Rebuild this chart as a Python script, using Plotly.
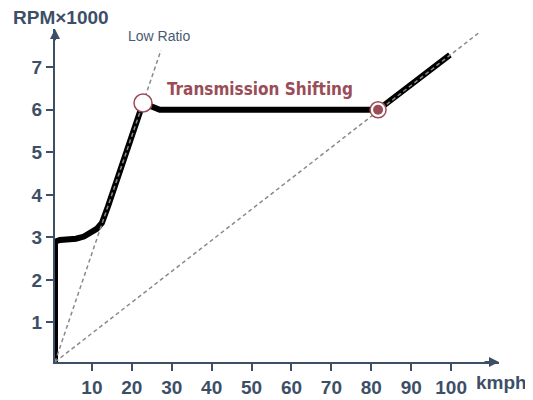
import plotly.graph_objects as go

# speed in kmph, engine speed in RPM x 1000
curve_x = [0.75, 0.75, 2.0, 4.0, 6.0, 8.0, 9.8, 11.2, 12.5, 14.0, 22.8, 27.0, 81.7, 99.7]
curve_y = [0.07, 2.90, 2.94, 2.95, 2.97, 3.02, 3.10, 3.20, 3.34, 3.72, 6.16, 6.0, 6.0, 7.29]

low_ratio_x = [0.75, 27.3]
low_ratio_y = [0.07, 7.40]
high_ratio_x = [0.75, 106.8]
high_ratio_y = [0.07, 7.80]

shift_low = (22.8, 6.16)
shift_high = (81.7, 6.0)

x_ticks = [10, 20, 30, 40, 50, 60, 70, 80, 90, 100]
y_ticks = [1, 2, 3, 4, 5, 6, 7]

axis_col = "#3d4f67"
red = "#9a4d57"
dash_col = "#8a8a8a"

fig = go.Figure()

fig.add_trace(go.Scatter(x=curve_x, y=curve_y, mode="lines",
                         line=dict(color="black", width=6), hoverinfo="skip"))
fig.add_trace(go.Scatter(x=low_ratio_x, y=low_ratio_y, mode="lines",
                         line=dict(color=dash_col, width=1.5, dash="4px,3px"), hoverinfo="skip"))
fig.add_trace(go.Scatter(x=high_ratio_x, y=high_ratio_y, mode="lines",
                         line=dict(color=dash_col, width=1.5, dash="4px,3px"), hoverinfo="skip"))

# shift points
fig.add_trace(go.Scatter(x=[shift_low[0]], y=[shift_low[1]], mode="markers",
                         marker=dict(size=18, color="white", line=dict(color=red, width=1.5))))
fig.add_trace(go.Scatter(x=[shift_high[0]], y=[shift_high[1]], mode="markers",
                         marker=dict(size=16, color="white", line=dict(color=red, width=1.5))))
fig.add_trace(go.Scatter(x=[shift_high[0]], y=[shift_high[1]], mode="markers",
                         marker=dict(size=10, color=red, line=dict(width=0))))

sans = "Liberation Sans, Arial, sans-serif"
tick_font = dict(family=sans, size=19, color=axis_col, weight="bold")

fig.update_xaxes(range=[0.75, 112], tickvals=x_ticks, showgrid=False, zeroline=False,
                 showline=True, linecolor=axis_col, linewidth=2, automargin=False,
                 ticks="outside", ticklen=7, tickwidth=2, tickcolor=axis_col,
                 tickfont=tick_font)
fig.update_yaxes(range=[0.07, 7.9], tickvals=y_ticks, showgrid=False, zeroline=False,
                 showline=True, linecolor=axis_col, linewidth=2, automargin=False,
                 ticks="outside", ticklen=7, tickwidth=2, tickcolor=axis_col,
                 tickfont=tick_font)

label_font = dict(family=sans, size=14, color="#4a5a70")

annos = [
    # axis arrow heads
    dict(x=112, y=0.07, ax=108, ay=0.07, axref="x", ayref="y", xref="x", yref="y",
         text="", showarrow=True, arrowhead=2, arrowsize=1, arrowwidth=2, arrowcolor=axis_col),
    dict(x=0.75, y=7.9, ax=0.75, ay=7.6, axref="x", ayref="y", xref="x", yref="y",
         text="", showarrow=True, arrowhead=2, arrowsize=1, arrowwidth=2, arrowcolor=axis_col),
    dict(x=0.0135, y=1.036, xref="paper", yref="paper", xanchor="center", yanchor="middle",
         text="RPM×1000", showarrow=False,
         font=dict(family=sans, size=19, color=axis_col, weight="bold")),
    dict(x=1.005, y=-0.062, xref="paper", yref="paper", xanchor="center", yanchor="middle",
         text="kmph", showarrow=False,
         font=dict(family=sans, size=19, color=axis_col, weight="bold")),
    dict(x=26.9, y=7.73, text="Low Ratio", showarrow=False, font=label_font),
    dict(x=106.6, y=8.04, text="High Ratio", showarrow=False, font=label_font),
    dict(x=52.1, y=6.49, text="Transmission Shifting", showarrow=False,
         font=dict(family="DejaVu Sans Condensed, Liberation Sans Narrow, Roboto, sans-serif",
                   size=17, color=red, weight="bold")),
]

# the page adds an 8px body margin, so the margins are trimmed by 8 on the top/left
fig.update_layout(width=533, height=400, showlegend=False,
                  margin=dict(l=47, r=42, t=21, b=46, autoexpand=False),
                  plot_bgcolor="white", paper_bgcolor="white",
                  annotations=annos)

fig.write_html("out.html")
